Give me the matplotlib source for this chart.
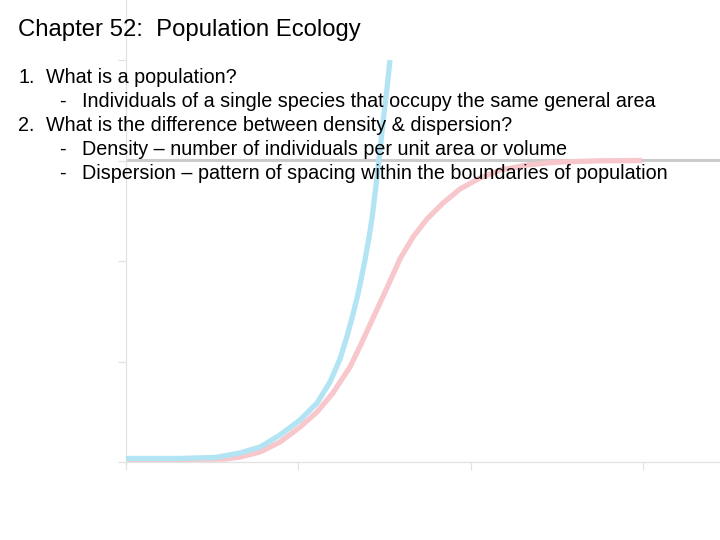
import matplotlib
matplotlib.use('Agg')
import matplotlib.pyplot as plt

# values: x in tick units (ticks 0..3), y in tick units (ticks 0..4)
exp_x = [0.000, 0.300, 0.517, 0.662, 0.778, 0.894, 1.010, 1.109, 1.184, 1.242,
         1.283, 1.312, 1.341, 1.364, 1.387, 1.410, 1.428, 1.445, 1.463, 1.480, 1.497,
         1.515, 1.532]
exp_y = [0.035, 0.035, 0.045, 0.090, 0.149, 0.269, 0.418, 0.587, 0.796, 1.025,
         1.254, 1.433, 1.632, 1.811, 2.010, 2.229, 2.428, 2.667, 2.925, 3.194, 3.463,
         3.721, 4.000]

log_x = [0.000, 0.300, 0.580, 0.662, 0.778, 0.894, 1.010, 1.109, 1.201, 1.300,
         1.370, 1.439, 1.509, 1.590, 1.666, 1.747, 1.840, 1.938, 2.055, 2.171, 2.327,
         2.443, 2.519, 2.751, 2.995]
log_y = [0.025, 0.025, 0.030, 0.050, 0.100, 0.199, 0.348, 0.498, 0.687, 0.945,
         1.194, 1.453, 1.711, 2.020, 2.239, 2.418, 2.577, 2.716, 2.826, 2.905, 2.955,
         2.975, 2.985, 2.997, 3.000]

carrying_capacity = 3.005
x_ticks = [0, 1, 2, 3]
y_ticks = [0, 1, 2, 3, 4]

title = "Chapter 52:  Population Ecology"
lines = [
    ("1.", "What is a population?", 0),
    ("-", "Individuals of a single species that occupy the same general area", 1),
    ("2.", "What is the difference between density & dispersion?", 0),
    ("-", "Density \u2013 number of individuals per unit area or volume", 1),
    ("-", "Dispersion \u2013 pattern of spacing within the boundaries of population", 1),
]

plt.rcParams['font.family'] = ['Liberation Sans', 'DejaVu Sans']

W, H = 720, 540
fig = plt.figure(figsize=(W / 100, H / 100), dpi=100)

# chart placed behind the text, positioned in pixels
x0_px, y0_px, x_unit, y_unit = 126, 462, 172.3, 100.5
ax = fig.add_axes([x0_px / W, (H - y0_px) / H, 1 - x0_px / W, y0_px / H])
ax.set_xlim(0, (W - x0_px) / x_unit)
ax.set_ylim(0, y0_px / y_unit)
ax.axhline(carrying_capacity, color='#cbcbcb', lw=2.2, zorder=1)
ax.plot(log_x, log_y, color='#f7c7cc', lw=3.8, solid_capstyle='butt', solid_joinstyle='round', zorder=2)
ax.plot(exp_x, exp_y, color='#b2e4f4', lw=3.8, solid_capstyle='butt', solid_joinstyle='round', zorder=3)

for side in ('top', 'right'):
    ax.spines[side].set_visible(False)
for side in ('left', 'bottom'):
    ax.spines[side].set_color('#e2e2e2')
    ax.spines[side].set_linewidth(0.9)
ax.set_xticks(x_ticks)
ax.set_yticks(y_ticks)
ax.tick_params(length=6, width=0.9, color='#e2e2e2', labelleft=False, labelbottom=False)
ax.patch.set_alpha(0)


def put(x_px, y_px, s, size):
    fig.text(x_px / W, 1 - y_px / H, s, fontsize=size, va='baseline', ha='left', color='black')


put(18, 36, title, 17.2)
for i, (mark, text, level) in enumerate(lines):
    base = 83 + 24 * i
    if level == 0:
        put(18, base, mark, 14.2)
        put(46, base, text, 14.2)
    else:
        put(59, base, mark, 14.2)
        put(82, base, text, 14.2)

fig.savefig('out.png', dpi=100)
